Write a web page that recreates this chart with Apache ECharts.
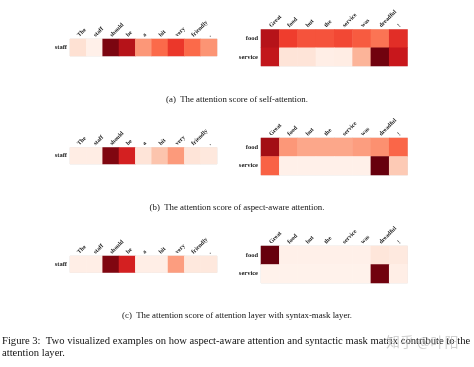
<!DOCTYPE html>
<html><head><meta charset="utf-8">
<script src="https://cdn.jsdelivr.net/npm/echarts@6/dist/echarts.min.js"></script>
<style>html,body{margin:0;padding:0;background:#fff}#c{width:474px;height:367px}</style>
</head><body><div id="c"></div>
<script>
const leftWords = ['The','staff','should','be','a','bit','very','friendly','.'];
const leftRows = ['staff'];
const rightWords = ['Great','food','but','the','service','was','dreadful','!'];
const rightRows = ['food','service'];

const aLeft = [0.12, 0.03, 0.96, 0.82, 0.36, 0.50, 0.64, 0.50, 0.37];
const aRightFood = [0.82, 0.62, 0.56, 0.56, 0.59, 0.54, 0.47, 0.67];
const aRightService = [0.78, 0.10, 0.10, 0.04, 0.05, 0.27, 0.98, 0.76];
const bLeft = [0.05, 0.05, 0.95, 0.72, 0.10, 0.22, 0.35, 0.10, 0.08];
const bRightFood = [0.88, 0.36, 0.31, 0.31, 0.31, 0.34, 0.38, 0.51];
const bRightService = [0.52, 0.03, 0.03, 0.03, 0.03, 0.03, 1.00, 0.20];
const cLeft = [0.04, 0.04, 0.95, 0.72, 0.04, 0.04, 0.34, 0.08, 0.08];
const cRightFood = [1.00, 0.03, 0.03, 0.03, 0.03, 0.03, 0.09, 0.07];
const cRightService = [0.02, 0.02, 0.02, 0.02, 0.02, 0.02, 0.98, 0.04];

const captions = ['(a)  The attention score of self-attention.',
  '(b)  The attention score of aspect-aware attention.',
  '(c)  The attention score of attention layer with syntax-mask layer.'];
const figCaption1 = 'Figure 3:  Two visualized examples on how aspect-aware attention and syntactic mask matrix contribute to the';
const figCaption2 = 'attention layer.';
const watermark = '知乎 @叶阳';

const reds = ['#fff5f0','#fee0d2','#fcbba1','#fc9272','#fb6a4a','#ef3b2c','#cb181d','#a50f15','#67000d'];

function toCells(rows){ const out=[]; rows.forEach((r,yi)=>r.forEach((v,xi)=>out.push([xi,yi,v]))); return out; }

const panels = [
  {words:leftWords, rows:leftRows, data:[aLeft], left:70, width:147, top:39, height:17},
  {words:rightWords, rows:rightRows, data:[aRightFood,aRightService], left:261, width:146.5, top:29.5, height:36.5},
  {words:leftWords, rows:leftRows, data:[bLeft], left:70, width:147, top:147.5, height:16.5},
  {words:rightWords, rows:rightRows, data:[bRightFood,bRightService], left:261, width:146.5, top:138, height:37},
  {words:leftWords, rows:leftRows, data:[cLeft], left:70, width:147, top:256, height:16.5},
  {words:rightWords, rows:rightRows, data:[cRightFood,cRightService], left:261, width:146.5, top:246, height:37}
];
const font = '"Liberation Serif", "DejaVu Serif", serif';
const grid=[], xAxis=[], yAxis=[], series=[];
panels.forEach((p,i)=>{
  grid.push({left:p.left, top:p.top, width:p.width, height:p.height, show:true, borderColor:'#d8d8d8', borderWidth:0.6, backgroundColor:'transparent'});
  xAxis.push({type:'category', gridIndex:i, data:p.words, position:'top', axisLine:{show:false}, axisTick:{show:false}, splitLine:{show:false},
    axisLabel:{rotate:-45, fontSize:6, fontWeight:'bold', fontFamily:font, color:'#222', margin:3, interval:0}});
  yAxis.push({type:'category', gridIndex:i, data:p.rows, inverse:true, axisLine:{show:false}, axisTick:{show:false}, splitLine:{show:false},
    axisLabel:{fontSize:6.5, fontWeight:'bold', fontFamily:font, color:'#222', margin:3}});
  series.push({type:'heatmap', xAxisIndex:i, yAxisIndex:i, data:toCells(p.data), itemStyle:{borderWidth:0}, emphasis:{disabled:true}, progressive:0});
});

const chart = echarts.init(document.getElementById('c'), null, {renderer:'canvas'});
chart.setOption({
  animation:false,
  backgroundColor:'#fff',
  grid, xAxis, yAxis, series,
  visualMap:{show:false, min:0, max:1, seriesIndex:[0,1,2,3,4,5], inRange:{color:reds}},
  graphic:[
    {type:'text', left:'center', top:95, style:{text:captions[0], font:'8.8px '+font, fill:'#111'}},
    {type:'text', left:'center', top:203, style:{text:captions[1], font:'8.8px '+font, fill:'#111'}},
    {type:'text', left:'center', top:311, style:{text:captions[2], font:'8.8px '+font, fill:'#111'}},
    {type:'text', left:2, top:336, style:{text:figCaption1, font:'10.6px '+font, fill:'#111'}},
    {type:'text', left:2, top:348, style:{text:figCaption2, font:'10.6px '+font, fill:'#111'}},
    {type:'text', left:386, top:335, style:{text:watermark, font:'14px "Noto Sans CJK SC", sans-serif', fill:'rgba(190,190,190,0.7)'}}
  ]
});
</script></body></html>
